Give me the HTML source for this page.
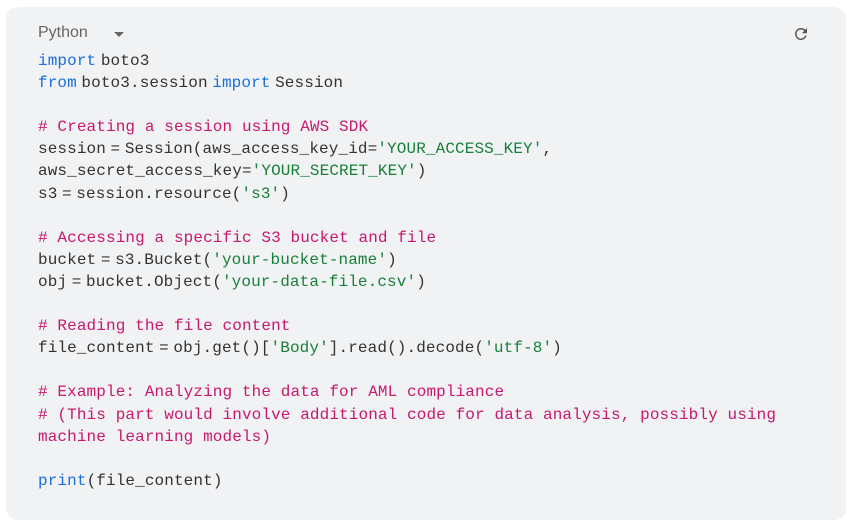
<!DOCTYPE html>
<html><head><meta charset="utf-8"><style>
body{margin:0;width:847px;height:523px;background:#fff;overflow:hidden}
.box{position:absolute;left:6px;top:7px;width:840px;height:513px;background:#f0f2f4;border-radius:12px}
.lang{position:absolute;left:38px;top:24px;font:16px "Liberation Sans",sans-serif;color:#666}
.tri{position:absolute;left:114px;top:32px;width:0;height:0;border-left:5px solid transparent;border-right:5px solid transparent;border-top:5px solid #666}
pre{position:absolute;left:38px;top:50px;margin:0;font:16px/22.1px "Liberation Mono",monospace;letter-spacing:0.11px;color:#333}
.k{color:#1a6ee0}.c{color:#c8186e}.g{color:#188038}
.s{font-family:"Liberation Sans",sans-serif}
</style></head><body>
<div class="box"></div>
<div class="lang">Python</div><div class="tri"></div>
<svg style="position:absolute;left:792px;top:25px" width="18" height="18" viewBox="0 0 24 24"><path d="M17.65 6.35A7.96 7.96 0 0 0 12 4a8 8 0 1 0 7.73 10h-2.08A6 6 0 1 1 12 6c1.66 0 3.14.69 4.22 1.78L13 11h7V4l-2.35 2.35z" fill="#555"/></svg>
<pre><span class="k">import</span><span class="s"> </span>boto3
<span class="k">from</span><span class="s"> </span>boto3.session<span class="s"> </span><span class="k">import</span><span class="s"> </span>Session

<span class="c"># Creating a session using AWS SDK</span>
session<span class="s"> </span>=<span class="s"> </span>Session(aws_access_key_id=<span class="g">'YOUR_ACCESS_KEY'</span>,
aws_secret_access_key=<span class="g">'YOUR_SECRET_KEY'</span>)
s3<span class="s"> </span>=<span class="s"> </span>session.resource(<span class="g">'s3'</span>)

<span class="c"># Accessing a specific S3 bucket and file</span>
bucket<span class="s"> </span>=<span class="s"> </span>s3.Bucket(<span class="g">'your-bucket-name'</span>)
obj<span class="s"> </span>=<span class="s"> </span>bucket.Object(<span class="g">'your-data-file.csv'</span>)

<span class="c"># Reading the file content</span>
file_content<span class="s"> </span>=<span class="s"> </span>obj.get()[<span class="g">'Body'</span>].read().decode(<span class="g">'utf-8'</span>)

<span class="c"># Example: Analyzing the data for AML compliance</span>
<span class="c"># (This part would involve additional code for data analysis, possibly using</span>
<span class="c">machine learning models)</span>

<span class="k">print</span>(file_content)</pre>
</body></html>
